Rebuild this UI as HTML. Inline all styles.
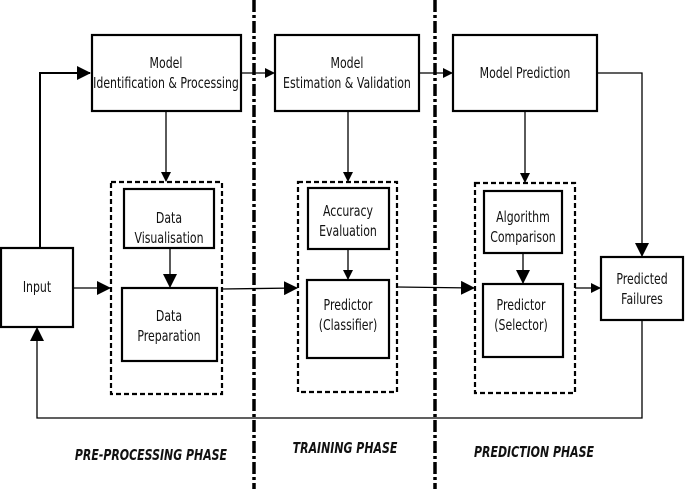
<!DOCTYPE html>
<html><head><meta charset="utf-8"><style>
body{margin:0;background:#fff}
svg text{font-family:"DejaVu Sans","Liberation Sans",sans-serif;font-size:15px;fill:#111}
.ph{font-weight:bold;font-style:italic;font-size:15px}
</style></head><body>
<svg width="685" height="489" viewBox="0 0 685 489" xmlns="http://www.w3.org/2000/svg">
<defs><marker id="a" markerWidth="10" markerHeight="10" refX="9" refY="5" orient="auto" markerUnits="userSpaceOnUse" viewBox="0 0 10 10"><path d="M0,0 L10,5 L0,10z" fill="#000"/></marker>
<marker id="b" markerWidth="14" markerHeight="14" refX="13" refY="7" orient="auto" markerUnits="userSpaceOnUse" viewBox="0 0 14 14"><path d="M0,0 L14,7 L0,14z" fill="#000"/></marker></defs>
<g stroke="#000" stroke-width="3.5" stroke-dasharray="12,3,3,3"><line x1="254" y1="0" x2="254" y2="489"/><line x1="435" y1="0" x2="435" y2="489"/></g>
<g fill="none" stroke="#000" stroke-width="2.2">
<rect x="92" y="35" width="149" height="76"/><rect x="275" y="35" width="144" height="76"/><rect x="453" y="35" width="144" height="76"/>
<rect x="1" y="248" width="72" height="79"/>
<rect x="124" y="189" width="90" height="59"/><rect x="122" y="288" width="95" height="73"/>
<rect x="308" y="188" width="81" height="61"/><rect x="307" y="280" width="82" height="78"/>
<rect x="484" y="191" width="78" height="62"/><rect x="483" y="284" width="80" height="73"/>
<rect x="601" y="257" width="82" height="63"/>
</g>
<g fill="none" stroke="#000" stroke-width="2.2" stroke-dasharray="5,3">
<rect x="111" y="182" width="111" height="212"/><rect x="298" y="182" width="99" height="210"/><rect x="475" y="183" width="100" height="210"/>
</g>
<g fill="none" stroke="#000" stroke-width="1.3">
<polyline points="40,248 40,73 90,73" stroke-width="2" marker-end="url(#b)"/>
<line x1="241" y1="73" x2="274" y2="73" marker-end="url(#a)"/>
<line x1="419" y1="73" x2="452" y2="73" marker-end="url(#a)"/>
<polyline points="597,73 642,73 642,256" marker-end="url(#b)"/>
<line x1="166" y1="111" x2="166" y2="181" marker-end="url(#a)"/>
<line x1="348" y1="111" x2="348" y2="181" marker-end="url(#a)"/>
<line x1="525" y1="111" x2="525" y2="182" marker-end="url(#a)"/>
<line x1="170" y1="248" x2="170" y2="287" marker-end="url(#b)"/>
<line x1="348" y1="249" x2="348" y2="279" marker-end="url(#a)"/>
<line x1="523" y1="253" x2="523" y2="283" marker-end="url(#b)"/>
<line x1="73" y1="288" x2="110" y2="288" marker-end="url(#b)"/>
<line x1="222" y1="289" x2="297" y2="288" marker-end="url(#b)"/>
<line x1="397" y1="287" x2="474" y2="288" marker-end="url(#b)"/>
<line x1="575" y1="288" x2="600" y2="288" marker-end="url(#a)"/>
<polyline points="642,320 642,418 37,418 37,328" marker-end="url(#b)"/>
</g>
<g text-anchor="middle" transform="scale(0.73,1)">
<text x="227.4" y="68">Model</text><text x="227.4" y="88">Identification &amp; Processing</text>
<text x="475.3" y="68">Model</text><text x="475.3" y="88">Estimation &amp; Validation</text>
<text x="719.2" y="78">Model Prediction</text>
<text x="50.7" y="292">Input</text>
<text x="231.5" y="223">Data</text><text x="231.5" y="243">Visualisation</text>
<text x="476.7" y="216">Accuracy</text><text x="476.7" y="236">Evaluation</text>
<text x="231.5" y="321">Data</text><text x="231.5" y="341">Preparation</text>
<text x="476.7" y="310">Predictor</text><text x="476.7" y="330">(Classifier)</text>
<text x="716.4" y="222">Algorithm</text><text x="716.4" y="242">Comparison</text>
<text x="713.7" y="310">Predictor</text><text x="713.7" y="330">(Selector)</text>
<text x="879.5" y="284">Predicted</text><text x="879.5" y="304">Failures</text>
<text class="ph" x="206.8" y="460">PRE-PROCESSING PHASE</text>
<text class="ph" x="472.6" y="453">TRAINING PHASE</text>
<text class="ph" x="731.5" y="457">PREDICTION PHASE</text>
</g>
</svg>
</body></html>
